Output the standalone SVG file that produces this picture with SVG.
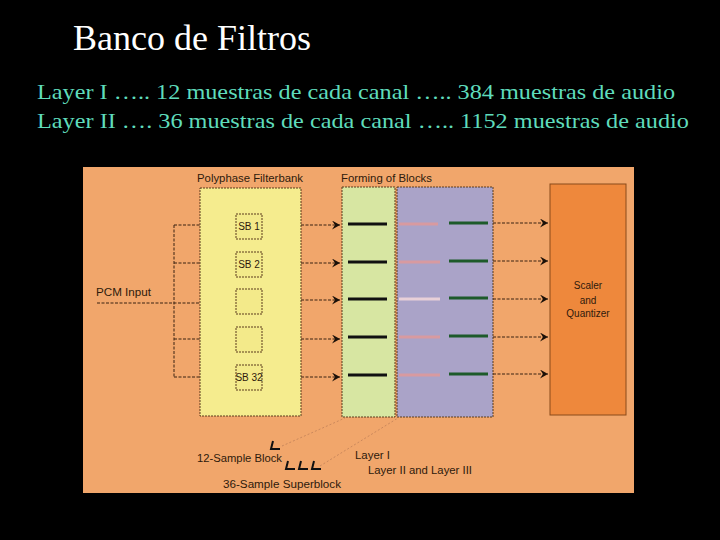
<svg xmlns="http://www.w3.org/2000/svg" width="720" height="540" viewBox="0 0 720 540">
<defs>
<style>
.title{font-family:"Liberation Serif","Times New Roman",serif;font-size:36px;fill:#ffffff}
.sub{font-family:"Liberation Serif","Times New Roman",serif;font-size:21px;fill:#5fdcbc}
.lbl{font-family:"Liberation Sans",Arial,sans-serif;font-size:10px;fill:#2e1a0c}
.ctr{text-anchor:middle}
.wire{stroke:#3a2212;stroke-width:1;fill:none;stroke-dasharray:3 1.5}
.box{stroke:#5a3a1c;stroke-width:1;stroke-dasharray:2 1}
.bar{stroke-width:3;stroke-linecap:butt}
</style>
<marker id="arr" markerWidth="9" markerHeight="9" refX="8" refY="4.5" orient="auto" markerUnits="userSpaceOnUse">
<path d="M0,0 L8,4.5 L0,9 L3,4.5 Z" fill="#1a1008"/>
</marker>
</defs>
<rect x="0" y="0" width="720" height="540" fill="#000000"/>
<text class="title" x="73" y="50">Banco de Filtros</text>
<text class="sub" x="37" y="99" textLength="638" lengthAdjust="spacingAndGlyphs">Layer I ….. 12 muestras de cada canal ….. 384 muestras de audio</text>
<text class="sub" x="37" y="128" textLength="652" lengthAdjust="spacingAndGlyphs">Layer II …. 36 muestras de cada canal ….. 1152 muestras de audio</text>

<g id="panel">
<rect x="83" y="167" width="551" height="326" fill="#f1a66b"/>
</g>

<g id="filterbank">
<rect class="box" x="200" y="188" width="101" height="228" fill="#f5ec8e"/>
<text class="lbl ctr" x="250" y="182" textLength="106" lengthAdjust="spacingAndGlyphs">Polyphase Filterbank</text>
</g>
<g id="sb1"><rect class="box" x="236" y="214" width="26" height="25" fill="#f3ea8a"/><text class="lbl ctr" x="249" y="230" font-size="9">SB 1</text></g>
<g id="sb2"><rect class="box" x="236" y="252" width="26" height="25" fill="#f3ea8a"/><text class="lbl ctr" x="249" y="268" font-size="9">SB 2</text></g>
<g id="sb3"><rect class="box" x="236" y="289" width="26" height="25" fill="#f3ea8a"/></g>
<g id="sb4"><rect class="box" x="236" y="327" width="26" height="25" fill="#f3ea8a"/></g>
<g id="sb32"><rect class="box" x="236" y="365" width="26" height="25" fill="#f3ea8a"/><text class="lbl ctr" x="249" y="381" font-size="8">SB 32</text></g>

<g id="pcm"><text class="lbl" x="96" y="296" textLength="55" lengthAdjust="spacingAndGlyphs">PCM Input</text></g>

<g id="forming">
<rect class="box" x="342" y="187" width="53" height="230" fill="#d7e6a2"/>
<rect class="box" x="397" y="187" width="96" height="230" fill="#aaa3c8"/>
<text class="lbl" x="341" y="182" textLength="91" lengthAdjust="spacingAndGlyphs">Forming of Blocks</text>
</g>

<g id="scaler">
<rect x="550" y="184" width="76" height="231" fill="#ee883c" stroke="#8a4a1a" stroke-width="1"/>
<text class="lbl ctr" x="588" y="289">Scaler</text>
<text class="lbl ctr" x="588" y="304">and</text>
<text class="lbl ctr" x="588" y="317">Quantizer</text>
</g>

<g id="bars">
<line class="bar" x1="348" y1="224" x2="387" y2="224" stroke="#111"/>
<line class="bar" x1="348" y1="262" x2="387" y2="262" stroke="#111"/>
<line class="bar" x1="348" y1="299" x2="387" y2="299" stroke="#111"/>
<line class="bar" x1="348" y1="337" x2="387" y2="337" stroke="#111"/>
<line class="bar" x1="348" y1="375" x2="387" y2="375" stroke="#111"/>
<line class="bar" x1="399" y1="224" x2="438" y2="224" stroke="#d89aa0"/>
<line class="bar" x1="399" y1="262" x2="440" y2="262" stroke="#d89aa0"/>
<line class="bar" x1="399" y1="299" x2="440" y2="299" stroke="#e8d0d8"/>
<line class="bar" x1="399" y1="337" x2="440" y2="337" stroke="#d89aa0"/>
<line class="bar" x1="399" y1="375" x2="440" y2="375" stroke="#d89aa0"/>
<line class="bar" x1="449" y1="223" x2="488" y2="223" stroke="#1d5a2a"/>
<line class="bar" x1="449" y1="261" x2="488" y2="261" stroke="#1d5a2a"/>
<line class="bar" x1="449" y1="298" x2="488" y2="298" stroke="#1d5a2a"/>
<line class="bar" x1="449" y1="336" x2="488" y2="336" stroke="#1d5a2a"/>
<line class="bar" x1="449" y1="374" x2="488" y2="374" stroke="#1d5a2a"/>
</g>

<g id="connectors">
<line class="wire" x1="97" y1="303" x2="200" y2="303"/>
<line class="wire" x1="174" y1="225" x2="174" y2="377"/>
<line class="wire" x1="174" y1="225" x2="200" y2="225"/>
<line class="wire" x1="174" y1="263" x2="200" y2="263"/>
<line class="wire" x1="174" y1="339" x2="200" y2="339"/>
<line class="wire" x1="174" y1="377" x2="200" y2="377"/>
<line class="wire" x1="301" y1="225" x2="340" y2="225" marker-end="url(#arr)"/>
<line class="wire" x1="301" y1="263" x2="340" y2="263" marker-end="url(#arr)"/>
<line class="wire" x1="301" y1="300" x2="340" y2="300" marker-end="url(#arr)"/>
<line class="wire" x1="301" y1="339" x2="340" y2="339" marker-end="url(#arr)"/>
<line class="wire" x1="301" y1="377" x2="340" y2="377" marker-end="url(#arr)"/>
<line class="wire" x1="493" y1="223" x2="548" y2="223" marker-end="url(#arr)"/>
<line class="wire" x1="493" y1="261" x2="548" y2="261" marker-end="url(#arr)"/>
<line class="wire" x1="493" y1="299" x2="548" y2="299" marker-end="url(#arr)"/>
<line class="wire" x1="493" y1="337" x2="548" y2="337" marker-end="url(#arr)"/>
<line class="wire" x1="493" y1="374" x2="548" y2="374" marker-end="url(#arr)"/>
<line x1="282" y1="446" x2="345" y2="418" stroke="#c08058" stroke-width="0.8" stroke-dasharray="2 2"/>
<line x1="320" y1="466" x2="398" y2="418" stroke="#c08058" stroke-width="0.8" stroke-dasharray="2 2"/>
</g>

<g id="legend">
<path d="M273,441 L271,449 L280,449" fill="none" stroke="#111" stroke-width="2"/>
<path d="M288,461 L286,469 L295,469" fill="none" stroke="#111" stroke-width="2"/>
<path d="M301,461 L299,469 L308,469" fill="none" stroke="#111" stroke-width="2"/>
<path d="M314,461 L312,469 L321,469" fill="none" stroke="#111" stroke-width="2"/>
<text class="lbl" x="197" y="462" textLength="85" lengthAdjust="spacingAndGlyphs">12-Sample Block</text>
<text class="lbl" x="223" y="488" textLength="118" lengthAdjust="spacingAndGlyphs">36-Sample Superblock</text>
<text class="lbl" x="355" y="459" textLength="35" lengthAdjust="spacingAndGlyphs">Layer I</text>
<text class="lbl" x="368" y="474" textLength="104" lengthAdjust="spacingAndGlyphs">Layer II and Layer III</text>
</g>
</svg>
